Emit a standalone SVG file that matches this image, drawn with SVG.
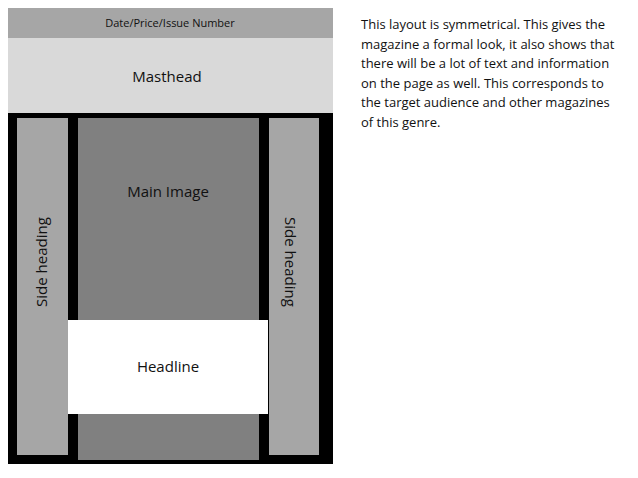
<svg xmlns="http://www.w3.org/2000/svg" width="638" height="478" viewBox="0 0 638 478">
<style>text{font-family:"Open Sans","Liberation Sans",sans-serif;fill:#111}.t{font-size:15px}</style>
<rect width="638" height="478" fill="#fff"/>
<g id="date"><rect x="8" y="8" width="325" height="30" fill="#a6a6a6"/><text x="170" y="27" font-size="11" text-anchor="middle">Date/Price/Issue Number</text></g>
<g id="masthead"><rect x="8" y="38" width="325" height="75" fill="#d9d9d9"/><text x="167" y="82" class="t" text-anchor="middle">Masthead</text></g>
<g id="frame"><rect x="8" y="113" width="325" height="351" fill="#000"/></g>
<g id="main"><rect x="78" y="118" width="181" height="342" fill="#808080"/><text x="168" y="197" class="t" text-anchor="middle">Main Image</text></g>
<g id="left"><rect x="17" y="118" width="51" height="337" fill="#a6a6a6"/><text transform="translate(47,262) rotate(-90)" class="t" text-anchor="middle">Side heading</text></g>
<g id="right"><rect x="269" y="118" width="50" height="337" fill="#a6a6a6"/><text transform="translate(285,262) rotate(90)" class="t" text-anchor="middle">Side heading</text></g>
<g id="headline"><rect x="68" y="320" width="200" height="94" fill="#fff"/><text x="168" y="372" class="t" text-anchor="middle">Headline</text></g>
<g id="note" font-size="13"><text x="361" y="29">This layout is symmetrical. This gives the</text><text x="361" y="49">magazine a  formal look, it also shows that</text><text x="361" y="68">there will be a lot of text and information</text><text x="361" y="88">on the page as well. This corresponds to</text><text x="361" y="107">the target audience and other magazines</text><text x="361" y="127">of this genre.</text></g>
<g id="connectors"/>
</svg>
